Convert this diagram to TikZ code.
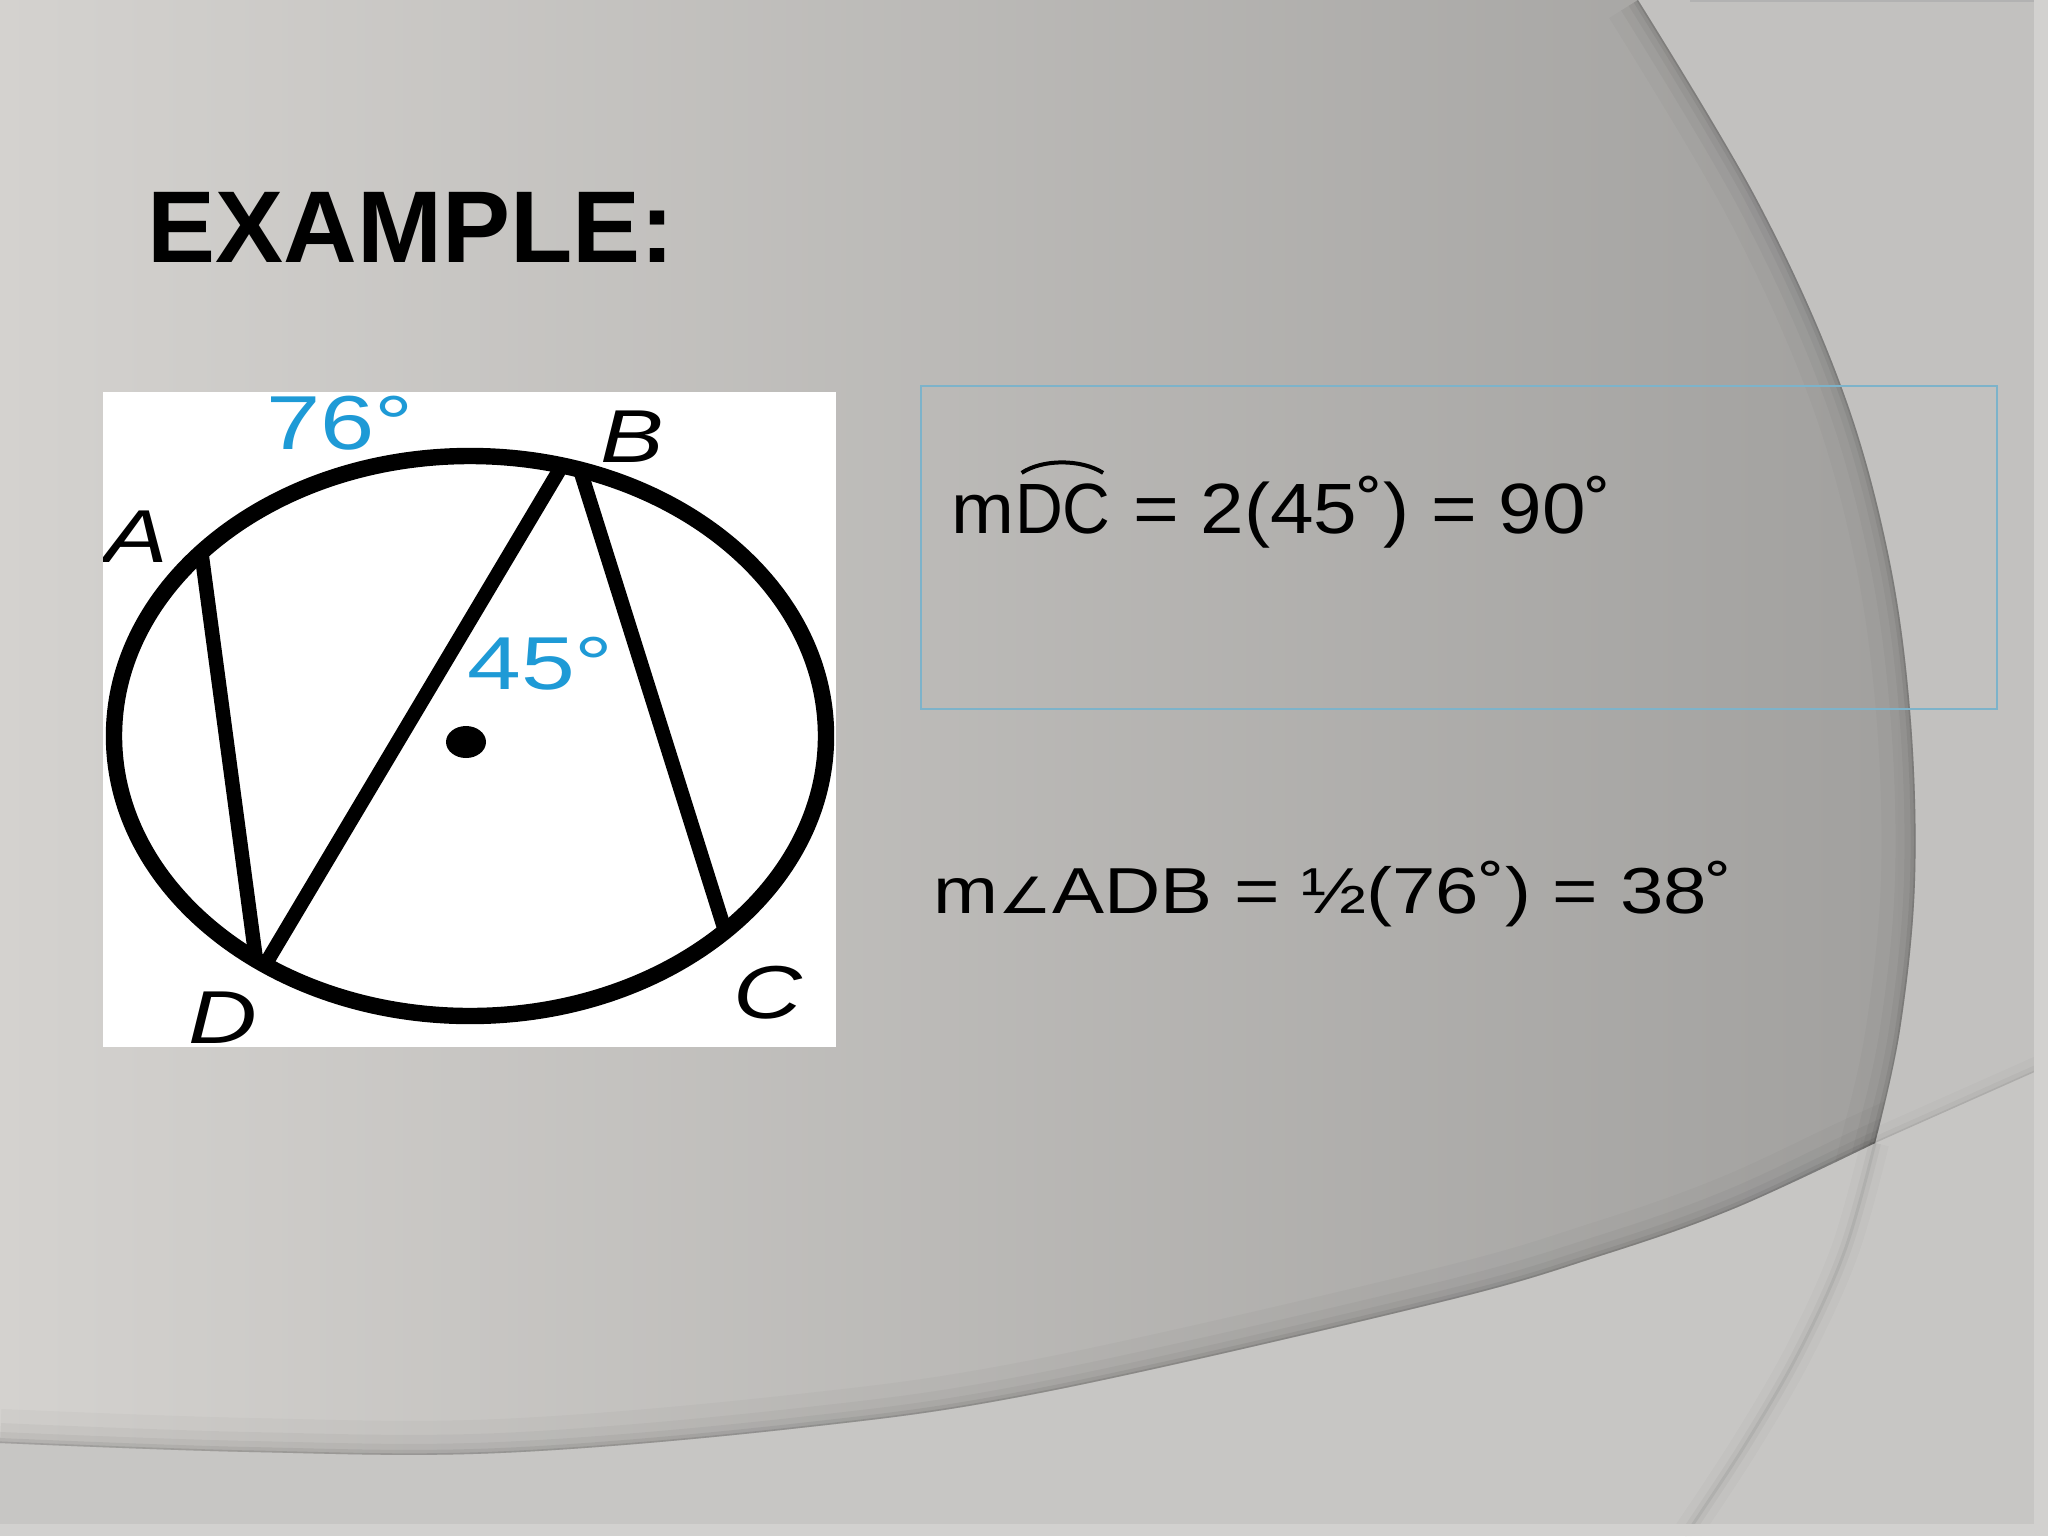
\documentclass[tikz,border=0pt]{standalone}
\usepackage{graphicx}
\usepackage{fontspec}
\setmainfont{Liberation Sans}
\newfontfamily\symfont{DejaVu Sans}
\usetikzlibrary{calc}
\definecolor{lblblue}{HTML}{1E9AD6}
\definecolor{boxblue}{HTML}{7DB3CA}
\definecolor{bgMainL}{HTML}{D4D2CF}
\definecolor{bgMainM}{HTML}{BCBBB9}
\definecolor{bgMainR}{HTML}{A1A09E}
\definecolor{bgUR}{HTML}{C2C1BF}
\definecolor{bgLow}{HTML}{C7C6C4}
\definecolor{bgStrip}{HTML}{D2D1CF}
\begin{document}
\begin{tikzpicture}[x=0.5pt,y=0.5pt,
  eqone/.style={anchor=base west, inner sep=0pt, font=\fontsize{35.6}{40}\selectfont},
  eqtwo/.style={anchor=base west, inner sep=0pt, font=\fontsize{32.5}{36}\selectfont},
  lbl/.style={anchor=base west, inner sep=0pt, font=\fontsize{37.5}{40}\selectfont},
  chord/.style={line width=7.2pt, line cap=butt},
  sm/.style={smooth, tension=0.6}]
\useasboundingbox (0,0) rectangle (2048,-1536);
% ---------- background ----------
\fill[bgLow] (0,0) rectangle (2048,-1536);
\fill[bgUR] (0,0) -- (2048,0) -- (2048,-1066)
  -- plot[sm] coordinates {(1875,-1143) (1733,-1209) (1600,-1256) (1437,-1303) (1045,-1392) (800,-1428) (500,-1453) (250,-1452) (0,-1443)} -- cycle;
\shade[left color=bgMainL, middle color=bgMainM, right color=bgMainR]
  (0,0) -- plot[sm] coordinates {(1638,0) (1757,-200) (1840,-383) (1887,-548) (1910,-710) (1915,-880) (1900,-1030) (1875,-1143)}
  -- plot[sm] coordinates {(1875,-1143) (1733,-1209) (1600,-1256) (1437,-1303) (1045,-1392) (800,-1428) (500,-1453) (250,-1452) (0,-1443)} -- cycle;
\begin{scope}
  \clip (0,0) -- plot[sm] coordinates {(1638,0) (1757,-200) (1840,-383) (1887,-548) (1910,-710) (1915,-880) (1900,-1030) (1875,-1143)}
  -- plot[sm] coordinates {(1875,-1143) (1733,-1209) (1600,-1256) (1437,-1303) (1045,-1392) (800,-1428) (500,-1453) (250,-1452) (0,-1443)} -- cycle;
  \foreach \w/\o in {34/0.025, 20/0.03, 11/0.04, 5/0.06, 1.6/0.1}{
    \draw[black, opacity=\o, line width=\w pt] plot[sm] coordinates {(1638,0) (1757,-200) (1840,-383) (1887,-548) (1910,-710) (1915,-880) (1900,-1030) (1875,-1143) (1845,-1250) (1800,-1350) (1745,-1445) (1685,-1536)};
    \draw[black, opacity=\o, line width=\w pt] plot[sm] coordinates {(2048,-1066) (1875,-1143) (1733,-1209) (1600,-1256) (1437,-1303) (1045,-1392) (800,-1428) (500,-1453) (250,-1452) (0,-1443)};
  }
\end{scope}
\begin{scope}
  \clip (0,-1443) -- (2048,-1066) -- (2048,-1536) -- (0,-1536) -- cycle;
  \foreach \w/\o in {14/0.02, 6/0.03, 1.5/0.06}{
    \draw[black, opacity=\o, line width=\w pt] plot[sm] coordinates {(1875,-1143) (1845,-1250) (1800,-1350) (1745,-1445) (1685,-1536)};
  }
\end{scope}
\begin{scope}
  \clip (1875,-1143) -- (2048,-1066) -- (2048,-800) -- (1900,-800) -- cycle;
  \foreach \w/\o in {14/0.02, 6/0.03, 1.5/0.06}{
    \draw[black, opacity=\o, line width=\w pt] (2048,-1066) -- (1875,-1143);
  }
\end{scope}
\fill[bgStrip] (2034,0) rectangle (2048,-1536);
\fill[bgStrip] (0,-1524) rectangle (2048,-1536);
\draw[black!30, line width=1pt] (1690,-1) -- (2034,-1);
% ---------- title ----------
\node[anchor=base west, inner sep=0pt, font=\fontsize{51}{56}\selectfont\bfseries] (title) at (147,-262) {EXAMPLE:};
% ---------- picture ----------
\fill[white] (103,-392) rectangle (836,-1047);
\begin{scope}
  \clip (103,-392) rectangle (836,-1047);
  \coordinate (A) at ({470+356*cos(139)},{-735+279*sin(139)});
  \coordinate (D) at ({470+356*cos(233)},{-735+279*sin(233)});
  \coordinate (D2) at ({470+356*cos(235)},{-735+279*sin(235)});
  \coordinate (B) at ({470+356*cos(75)},{-735+279*sin(75)});
  \coordinate (B2) at ({470+356*cos(72)},{-735+279*sin(72)});
  \coordinate (C) at ({470+356*cos(-44.3)},{-735+279*sin(-44.3)});
  \draw[chord] (A) -- (D);
  \draw[chord] (D2) -- (B);
  \draw[chord] (B2) -- (C);
  \draw[line width=8.2pt] (470,-736) ellipse [x radius=178pt, y radius=140pt];
  \fill (466,-742) ellipse [x radius=10pt, y radius=8pt];
  \node[lbl, text=lblblue] (l76) at (266,-449) {\scalebox{1.3}[1.02]{76°}};
  \node[lbl, text=lblblue] (l45) at (467,-689) {\scalebox{1.29}[1]{45°}};
  \node[lbl] (lA) at (104,-562) {\scalebox{1.27}[1]{\itshape A}};
  \node[lbl] (lB) at (600,-462) {\scalebox{1.27}[1]{\itshape B}};
  \node[lbl] (lC) at (733,-1018) {\scalebox{1.27}[1]{\itshape C}};
  \node[lbl] (lD) at (188,-1043) {\scalebox{1.27}[1]{\itshape D}};
\end{scope}
% ---------- text box ----------
\draw[boxblue, line width=0.75pt] (921,-386) rectangle (1997,-709);
\node[eqone] (m1) at (951,-533) {\scalebox{1.06}[1]{m}};
\node[eqone] (dc) at (m1.base east) {\scalebox{0.93}[1]{DC}};
\node[eqone] (r1) at (dc.base east) {\scalebox{1.1}[1]{\ = 2(45˚) = 90˚}};
\draw[line width=2pt] ($(dc.north west)+(7,10)$) .. controls ($(dc.north west)+(28,24)$) and ($(dc.north east)+(-30,24)$) .. ($(dc.north east)+(-8,10)$);
\node[eqtwo] (eq2) at (933,-913) {\scalebox{1.2}[1]{m{\symfont\fontsize{25}{28}\selectfont ∠}ADB = ½(76˚) = 38˚}};
\end{tikzpicture}
\end{document}
